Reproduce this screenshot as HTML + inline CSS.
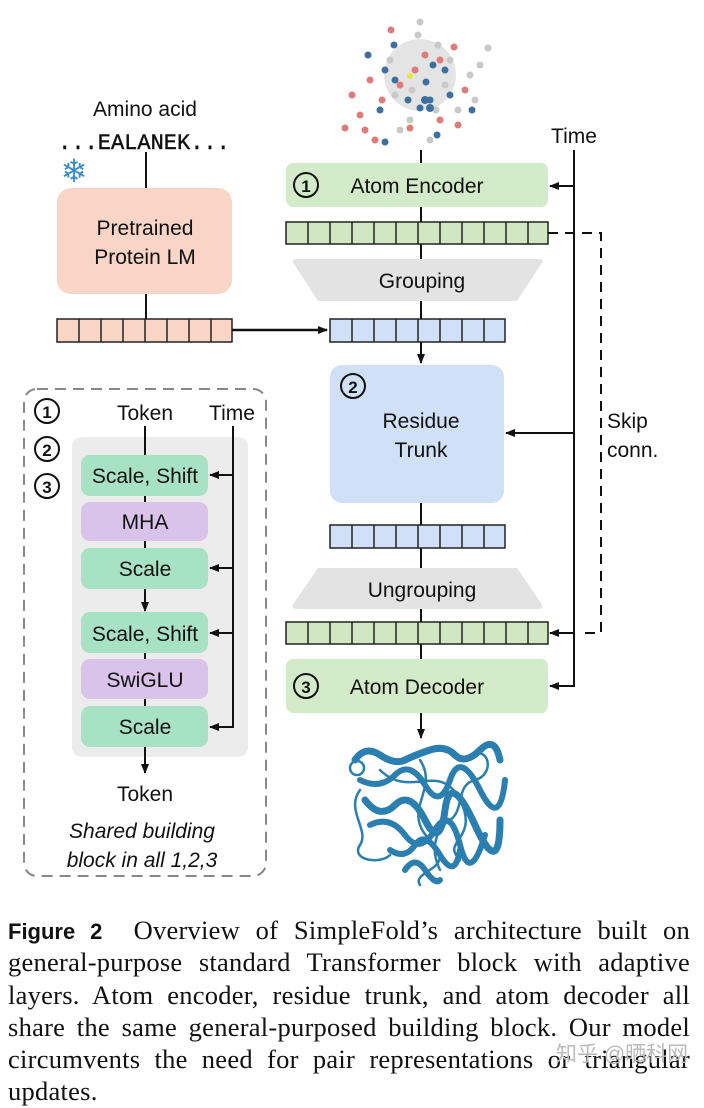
<!DOCTYPE html>
<html><head><meta charset="utf-8"><style>
html,body{margin:0;padding:0;background:#fff;width:704px;height:1108px;overflow:hidden}
svg{position:absolute;left:0;top:0}
text{font-family:"Liberation Sans",sans-serif;fill:#111}
.cap{position:absolute;left:8px;top:914px;width:682px;font-family:"Liberation Serif",serif;font-size:26.5px;letter-spacing:0.25px;line-height:32.3px;color:#111}
.cap div{text-align:justify;text-align-last:justify;white-space:nowrap;height:32.3px}
.cap div.l{text-align-last:left}
.cap b{font-family:"Liberation Sans",sans-serif;font-size:22px;letter-spacing:0}
.wm{position:absolute;left:556px;top:1038px;font-family:"Liberation Sans","Noto Sans CJK SC",sans-serif;font-size:21px;color:#bbb}
</style></head><body>
<svg width="704" height="900" viewBox="0 0 704 900">
<defs>
<marker id="a" markerWidth="10" markerHeight="10" refX="9" refY="5" orient="auto" markerUnits="userSpaceOnUse"><path d="M0,1 L10,5 L0,9 z" fill="#111"/></marker>
</defs>
<g>
<circle cx="420" cy="75" r="36" fill="#d8d8d8" opacity="0.7"/>
<g fill="#c9c9c9">
<circle cx="420" cy="22" r="3.5"/><circle cx="438" cy="45" r="3.5"/><circle cx="480" cy="65" r="3.5"/><circle cx="458" cy="110" r="3.5"/><circle cx="390" cy="60" r="3.5"/><circle cx="395" cy="95" r="3.5"/><circle cx="445" cy="85" r="3.5"/><circle cx="410" cy="120" r="3.5"/><circle cx="475" cy="100" r="3.5"/><circle cx="430" cy="140" r="3.5"/><circle cx="418" cy="35" r="3.5"/><circle cx="470" cy="75" r="3.5"/><circle cx="400" cy="130" r="3.5"/><circle cx="450" cy="60" r="3.5"/><circle cx="488" cy="48" r="3.5"/><circle cx="412" cy="90" r="3.5"/><circle cx="436" cy="110" r="3.5"/>
</g>
<g fill="#e07b7b">
<circle cx="391" cy="30" r="3.5"/><circle cx="454" cy="47" r="3.5"/><circle cx="365" cy="130" r="3.5"/><circle cx="352" cy="95" r="3.5"/><circle cx="375" cy="140" r="3.5"/><circle cx="410" cy="128" r="3.5"/><circle cx="465" cy="90" r="3.5"/><circle cx="400" cy="85" r="3.5"/><circle cx="440" cy="120" r="3.5"/><circle cx="360" cy="115" r="3.5"/><circle cx="425" cy="55" r="3.5"/><circle cx="382" cy="100" r="3.5"/><circle cx="458" cy="125" r="3.5"/><circle cx="415" cy="70" r="3.5"/><circle cx="440" cy="60" r="3.5"/><circle cx="370" cy="80" r="3.5"/><circle cx="345" cy="128" r="3.5"/>
</g>
<g fill="#3f6f9e">
<circle cx="394" cy="45" r="3.5"/><circle cx="368" cy="55" r="3.5"/><circle cx="385" cy="70" r="3.5"/><circle cx="380" cy="110" r="3.5"/><circle cx="426" cy="82" r="3.5"/><circle cx="430" cy="100" r="3.5"/><circle cx="437" cy="135" r="3.5"/><circle cx="450" cy="95" r="3.5"/><circle cx="420" cy="108" r="3.5"/><circle cx="385" cy="142" r="3.5"/><circle cx="408" cy="100" r="3.5"/><circle cx="445" cy="70" r="3.5"/><circle cx="472" cy="110" r="3.5"/><circle cx="395" cy="80" r="3.5"/><circle cx="433" cy="65" r="3.5"/><circle cx="425" cy="100" r="4"/><circle cx="430" cy="108" r="4"/>
</g>
<circle cx="410" cy="76" r="3" fill="#e6e64a"/>
</g>
<text x="145" y="116" font-size="21" text-anchor="middle">Amino acid</text>
<text x="144" y="149" font-size="22" text-anchor="middle" style="font-family:'Liberation Mono',monospace" stroke="#111" stroke-width="0.4">...EALANEK...</text>
<text x="74" y="182" font-size="32" text-anchor="middle" style="fill:#3a8fc8">❄</text>
<line x1="146" y1="152" x2="146" y2="190" stroke="#111" stroke-width="2"/>
<rect x="57" y="188" width="175" height="106" rx="14" fill="#f8d5c6"/>
<text x="145" y="235" font-size="21" text-anchor="middle">Pretrained</text>
<text x="145" y="264" font-size="21" text-anchor="middle">Protein LM</text>
<line x1="146" y1="294" x2="146" y2="320" stroke="#111" stroke-width="2"/>
<g stroke="#222" stroke-width="1.5" fill="#f8d5c6">
<rect x="57" y="319" width="175" height="23"/>
<path d="M79 319v23M101 319v23M123 319v23M145 319v23M167 319v23M189 319v23M211 319v23"/>
</g>
<line x1="232" y1="330" x2="327" y2="330" stroke="#111" stroke-width="2.5" marker-end="url(#a)"/>
<line x1="421" y1="150" x2="421" y2="165" stroke="#111" stroke-width="2"/>
<rect x="286" y="163" width="262" height="44" rx="7" fill="#d4ebc9"/>
<circle cx="306" cy="185" r="12" fill="none" stroke="#111" stroke-width="2"/>
<text x="306" y="192" font-size="17" text-anchor="middle" font-weight="bold">1</text>
<text x="417" y="193" font-size="21" text-anchor="middle">Atom Encoder</text>
<line x1="421" y1="207" x2="421" y2="352" stroke="#111" stroke-width="2"/>
<g stroke="#222" stroke-width="1.5" fill="#cfe8c3">
<rect x="286" y="222" width="262" height="22"/>
<path d="M308 222v22M330 222v22M352 222v22M374 222v22M396 222v22M418 222v22M440 222v22M462 222v22M484 222v22M506 222v22M528 222v22"/>
</g>
<path d="M298 259 H540 Q545 259 541 264 L517 301 H318 L294 264 Q290 259 298 259z" fill="#e3e3e3"/>
<text x="422" y="288" font-size="21" text-anchor="middle">Grouping</text>
<line x1="421" y1="301" x2="421" y2="318" stroke="#111" stroke-width="2"/>
<g stroke="#222" stroke-width="1.5" fill="#cfe0f7">
<rect x="330" y="319" width="175" height="23"/>
<path d="M352 319v23M374 319v23M396 319v23M418 319v23M440 319v23M462 319v23M484 319v23"/>
</g>
<line x1="421" y1="342" x2="421" y2="363" stroke="#111" stroke-width="2" marker-end="url(#a)"/>
<rect x="330" y="365" width="174" height="138" rx="12" fill="#cfe0f7"/>
<circle cx="353" cy="386" r="12" fill="none" stroke="#111" stroke-width="2"/>
<text x="353" y="393" font-size="17" text-anchor="middle" font-weight="bold">2</text>
<text x="421" y="428" font-size="21" text-anchor="middle">Residue</text>
<text x="421" y="457" font-size="21" text-anchor="middle">Trunk</text>
<line x1="421" y1="503" x2="421" y2="640" stroke="#111" stroke-width="2"/>
<g stroke="#222" stroke-width="1.5" fill="#cfe0f7">
<rect x="330" y="525" width="175" height="23"/>
<path d="M352 525v23M374 525v23M396 525v23M418 525v23M440 525v23M462 525v23M484 525v23"/>
</g>
<path d="M318 568 H517 L541 603 Q545 609 538 609 H297 Q290 609 294 603z" fill="#e3e3e3"/>
<text x="422" y="597" font-size="21" text-anchor="middle">Ungrouping</text>
<line x1="421" y1="609" x2="421" y2="660" stroke="#111" stroke-width="2"/>
<g stroke="#222" stroke-width="1.5" fill="#cfe8c3">
<rect x="286" y="622" width="262" height="22"/>
<path d="M308 622v22M330 622v22M352 622v22M374 622v22M396 622v22M418 622v22M440 622v22M462 622v22M484 622v22M506 622v22M528 622v22"/>
</g>
<rect x="286" y="659" width="262" height="54" rx="7" fill="#d4ebc9"/>
<circle cx="306" cy="686" r="12" fill="none" stroke="#111" stroke-width="2"/>
<text x="306" y="693" font-size="17" text-anchor="middle" font-weight="bold">3</text>
<text x="417" y="694" font-size="21" text-anchor="middle">Atom Decoder</text>
<line x1="421" y1="713" x2="421" y2="738" stroke="#111" stroke-width="2" marker-end="url(#a)"/>
<text x="574" y="143" font-size="21" text-anchor="middle">Time</text>
<path d="M574 150 V686 H550" fill="none" stroke="#111" stroke-width="2" marker-end="url(#a)"/>
<line x1="574" y1="186" x2="550" y2="186" stroke="#111" stroke-width="2" marker-end="url(#a)"/>
<line x1="574" y1="433" x2="506" y2="433" stroke="#111" stroke-width="2" marker-end="url(#a)"/>
<line x1="574" y1="633" x2="550" y2="633" stroke="#111" stroke-width="2" marker-end="url(#a)"/>
<path d="M548 233 H601 V633 H584" fill="none" stroke="#111" stroke-width="2" stroke-dasharray="10,7"/>
<text x="607" y="428" font-size="21">Skip</text>
<text x="607" y="457" font-size="21">conn.</text>
<g fill="none" stroke="#2b7fb0" stroke-linecap="round">
<path d="M355 760 q10 -15 25 -5 t25 5 t25 -10 t25 5 t25 -5 t20 10" stroke-width="7"/>
<path d="M360 780 q20 10 35 -5 t30 10 t25 -5 t30 10 t25 -10" stroke-width="6"/>
<path d="M365 800 q15 20 30 5 t30 15 t20 -10 t30 15 t25 -5" stroke-width="7"/>
<path d="M370 825 q20 -10 35 10 t30 -5 t25 15 t25 -10" stroke-width="6"/>
<path d="M390 850 q15 10 25 -5 t25 10 t20 -5" stroke-width="6"/>
<path d="M405 870 q10 -15 20 0 t15 10" stroke-width="6"/>
<path d="M420 760 C440 790 400 810 430 840 S410 870 420 885" stroke-width="2.5"/>
<path d="M470 755 c20 -10 25 20 5 25 s-10 30 -25 40 s-20 30 -10 50" stroke-width="2.5"/>
<path d="M360 790 c-15 20 10 40 0 55 s20 20 30 10" stroke-width="2.5"/>
<path d="M380 770 c30 30 60 -10 80 30 s-20 40 0 60" stroke-width="2.5"/>
<circle cx="357" cy="768" r="7" stroke-width="2.5"/>
</g>
<rect x="24" y="389" width="242" height="487" rx="13" fill="none" stroke="#888" stroke-width="2" stroke-dasharray="11,7"/>
<g font-weight="bold">
<circle cx="47" cy="411" r="12" fill="none" stroke="#111" stroke-width="2"/><text x="47" y="418" font-size="17" text-anchor="middle">1</text>
<circle cx="47" cy="449" r="12" fill="none" stroke="#111" stroke-width="2"/><text x="47" y="456" font-size="17" text-anchor="middle">2</text>
<circle cx="47" cy="486" r="12" fill="none" stroke="#111" stroke-width="2"/><text x="47" y="493" font-size="17" text-anchor="middle">3</text>
</g>
<text x="145" y="420" font-size="21" text-anchor="middle">Token</text>
<text x="232" y="420" font-size="21" text-anchor="middle">Time</text>
<rect x="72" y="437" width="176" height="320" rx="10" fill="#ececec"/>
<line x1="145" y1="426" x2="145" y2="456" stroke="#111" stroke-width="2"/>
<path d="M233 426 V727 H210" fill="none" stroke="#111" stroke-width="2" marker-end="url(#a)"/>
<line x1="233" y1="475" x2="210" y2="475" stroke="#111" stroke-width="2" marker-end="url(#a)"/>
<line x1="233" y1="568" x2="210" y2="568" stroke="#111" stroke-width="2" marker-end="url(#a)"/>
<line x1="233" y1="633" x2="210" y2="633" stroke="#111" stroke-width="2" marker-end="url(#a)"/>
<line x1="145" y1="589" x2="145" y2="611" stroke="#111" stroke-width="2" marker-end="url(#a)"/>
<line x1="145" y1="747" x2="145" y2="773" stroke="#111" stroke-width="2" marker-end="url(#a)"/>
<g stroke="#111" stroke-width="2"><line x1="145" y1="496" x2="145" y2="502"/><line x1="145" y1="541" x2="145" y2="548"/><line x1="145" y1="653" x2="145" y2="659"/><line x1="145" y1="699" x2="145" y2="706"/></g>
<rect x="81" y="455" width="127" height="41" rx="9" fill="#a8e2c4"/>
<rect x="81" y="502" width="127" height="39" rx="9" fill="#d9c3ea"/>
<rect x="81" y="548" width="127" height="41" rx="9" fill="#a8e2c4"/>
<rect x="81" y="612" width="127" height="41" rx="9" fill="#a8e2c4"/>
<rect x="81" y="659" width="127" height="40" rx="9" fill="#d9c3ea"/>
<rect x="81" y="706" width="127" height="41" rx="9" fill="#a8e2c4"/>
<text x="145" y="483" font-size="21" text-anchor="middle">Scale, Shift</text>
<text x="145" y="529" font-size="21" text-anchor="middle">MHA</text>
<text x="145" y="576" font-size="21" text-anchor="middle">Scale</text>
<text x="145" y="641" font-size="21" text-anchor="middle">Scale, Shift</text>
<text x="145" y="687" font-size="21" text-anchor="middle">SwiGLU</text>
<text x="145" y="734" font-size="21" text-anchor="middle">Scale</text>
<text x="145" y="801" font-size="21" text-anchor="middle">Token</text>
<text x="142" y="838" font-size="21" text-anchor="middle" font-style="italic">Shared building</text>
<text x="142" y="867" font-size="21" text-anchor="middle" font-style="italic">block in all 1,2,3</text>
</svg>
<div class="cap">
<div><b>Figure 2</b>&nbsp; Overview of SimpleFold’s architecture built on</div>
<div>general-purpose standard Transformer block with adaptive</div>
<div>layers. Atom encoder, residue trunk, and atom decoder all</div>
<div>share the same general-purposed building block. Our model</div>
<div>circumvents the need for pair representations or triangular</div>
<div class="l">updates.</div>
</div>
<div class="wm">知乎 @晒科网</div>
</body></html>
